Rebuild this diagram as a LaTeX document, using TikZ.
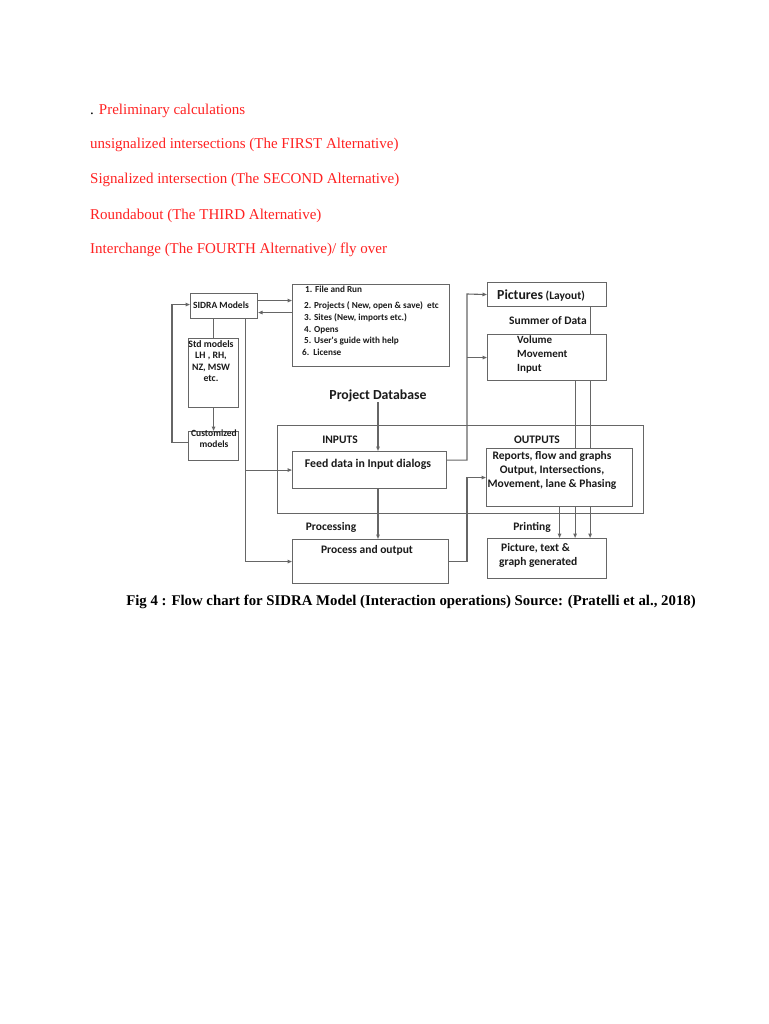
\documentclass[tikz,border=0pt]{standalone}
\usepackage{fontspec}
\setmainfont{Liberation Serif}
\newfontfamily\calfont{Carlito}
\usetikzlibrary{arrows.meta,backgrounds}
\definecolor{redtxt}{HTML}{FF2222}
\definecolor{linec}{HTML}{666666}
\definecolor{dtxt}{HTML}{1A1A1A}
\tikzset{
  box/.style={draw=linec, line width=1.1pt, rectangle, anchor=north west, inner sep=0pt},
  lbl/.style={text=dtxt, font=\calfont\bfseries\fontsize{11.5}{13}\selectfont, inner sep=0pt},
  ln/.style={draw=linec, line width=1.1pt},
  arr/.style={ln, -{Triangle[length=4.5pt,width=3.5pt]}},
  redline/.style={anchor=base west, text=redtxt, inner sep=0pt, font=\fontsize{15}{17}\selectfont}
}
\begin{document}
\begin{tikzpicture}[x=1pt,y=-1pt]
\useasboundingbox (0,0) rectangle (768,1024);
% red header text
\node[redline] (t1) at (90,115) {\textcolor{black}{.} Preliminary calculations};
\node[redline] (t2) at (90,149) {unsignalized intersections (The FIRST Alternative)};
\node[redline] (t3) at (90,184) {Signalized intersection (The SECOND Alternative)};
\node[redline] (t4) at (90,219) {Roundabout (The THIRD Alternative)};
\node[redline] (t5) at (90,253) {Interchange (The FOURTH Alternative)/ fly over};

% outer frame
\node[box, minimum width=366pt, minimum height=88pt] (outer) at (277,425) {};

% boxes
\node[box, minimum width=67pt, minimum height=25pt] (sidra) at (190,293) {};
\node[lbl, anchor=west, font=\calfont\bfseries\fontsize{9.5}{11}\selectfont] at (193,305.5) {SIDRA Models};
\node[box, minimum width=50pt, minimum height=69pt] (std) at (188,338) {};
\node[lbl, anchor=north, align=center, font=\calfont\bfseries\fontsize{9.8}{11.5}\selectfont] at (211,340) {Std models\\LH , RH,\\NZ, MSW\\etc.};
\node[box, minimum width=50pt, minimum height=29pt] (cust) at (188,431) {};
\node[lbl, anchor=north, align=center, font=\calfont\bfseries\fontsize{9.5}{11}\selectfont] at (214,430) {Customized\\models};

\node[box, minimum width=157pt, minimum height=82pt] (file) at (292,284) {};
\node[lbl, anchor=north west, align=left, font=\calfont\bfseries\fontsize{9.2}{11.8}\selectfont] at (302,286) {\hspace{3pt}1. File and Run\\[4pt]\hspace{2pt}2. Projects ( New, open \& save)\ \ etc\\\hspace{2pt}3. Sites (New, imports etc.)\\\hspace{2pt}4. Opens\\\hspace{2pt}5. User's guide with help\\6.\ \ License};

\node[lbl, font=\calfont\bfseries\fontsize{13.8}{15}\selectfont] (pdb) at (378,396) {Project Database};

\node[lbl] (inl) at (340,440) {INPUTS};
\node[box, minimum width=154pt, minimum height=37pt] (feed) at (292,451) {};
\node[lbl, font=\calfont\bfseries\fontsize{11.8}{13}\selectfont] at (368,464) {Feed data in Input dialogs};

\node[lbl] (prl) at (331,527) {Processing};
\node[box, minimum width=156pt, minimum height=44pt] (proc) at (292,539) {};
\node[lbl] at (367,550) {Process and output};

\node[box, minimum width=119pt, minimum height=24pt] (pict) at (487,282) {};
\node[lbl, anchor=base west] at (497,299) {{\fontsize{13.8}{15}\selectfont Pictures} {\fontsize{11.5}{13}\selectfont(Layout)}};
\node[lbl] (sod) at (548,321) {Summer of Data};
\node[box, minimum width=119pt, minimum height=46pt] (vol) at (487,334) {};
\node[lbl, anchor=north west, align=left, font=\calfont\bfseries\fontsize{11}{14}\selectfont] at (517,336) {Volume\\Movement\\Input};

\node[lbl] (outl) at (537,440) {OUTPUTS};
\node[box, fill=white, minimum width=146pt, minimum height=58pt] (rep) at (486,448) {};
\node[lbl, anchor=north, align=center, font=\calfont\bfseries\fontsize{11.5}{14}\selectfont] at (552,451) {Reports, flow and graphs\\Output, Intersections,\\Movement, lane \& Phasing};

\node[lbl] (prt) at (532,527) {Printing};
\node[box, minimum width=119pt, minimum height=40pt] (picgen) at (487,538) {};
\node[lbl, anchor=north west, align=left, font=\calfont\bfseries\fontsize{11.5}{14}\selectfont] at (499,543) {\hspace{2pt}Picture, text \&\\graph generated};

% connectors left
\coordinate (s1) at ([yshift=5.5pt]sidra.east);
\coordinate (s2) at ([yshift=-6.5pt]sidra.east);
\draw[arr] (s1) -- (file.west |- s1);
\draw[arr] (file.west |- s2) -- (s2);
\draw[arr] ([yshift=4pt]cust.west) -- ++(-16,0) |- ([yshift=1.5pt]sidra.west);
\draw[ln] (std.north |- sidra.south) -- (std.north);
\draw[arr] (std.south) -- (cust.north);
\coordinate (bus) at ([xshift=-13pt]sidra.south east);
\draw[arr] (bus) |- (proc.west);
\draw[arr] (bus |- feed.west) -- (feed.west);

% centre
\draw[arr] (pdb.south) -- (pdb.south |- feed.north);
\draw[arr] (pdb.south |- feed.south) -- (pdb.south |- proc.north);

% right bus
\coordinate (rbus) at (467,294);
\draw[arr] ([yshift=10pt]feed.east) -| (rbus) -- (pict.west);
\draw[arr] (rbus |- vol.west) -- (vol.west);
\draw[arr] (proc.east) -| (rbus |- rep.west) -- (rep.west);

% right column
\draw[ln] ([xshift=-17pt]pict.south east) -- ([xshift=-17pt]vol.north east);
\begin{pgfonlayer}{background}
\fill[white] (0,0) rectangle (768,1024);
\draw[arr] ([xshift=-32pt]vol.south east) -- ([xshift=-32pt]picgen.north east);
\draw[arr] ([xshift=-17pt]vol.south east) -- ([xshift=-17pt]picgen.north east);
\end{pgfonlayer}
\draw[arr] (rep.south) -- (rep.south |- picgen.north);

% caption
\node[anchor=base, inner sep=0pt, font=\bfseries\fontsize{14.8}{17}\selectfont] (cap) at (411,605) {Fig 4 : Flow chart for SIDRA Model (Interaction operations) Source: (Pratelli et al., 2018)};
\end{tikzpicture}
\end{document}
